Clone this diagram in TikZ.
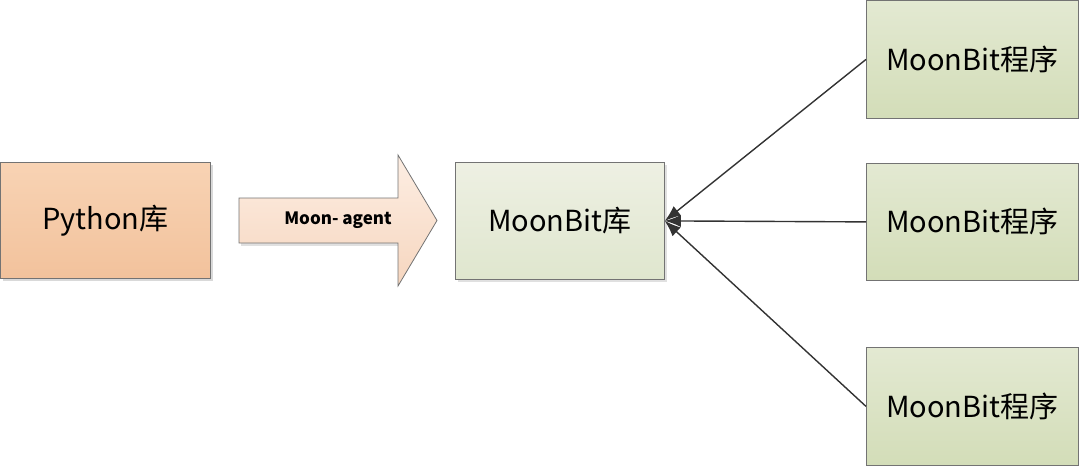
\documentclass[tikz,border=0pt]{standalone}
\usepackage{fontspec}
\setmainfont{Noto Sans CJK SC}
\usetikzlibrary{arrows.meta}
\definecolor{pyT}{HTML}{F8D3B4}
\definecolor{pyB}{HTML}{F2C29C}
\definecolor{arT}{HTML}{FDEEE3}
\definecolor{arB}{HTML}{F6D6BF}
\definecolor{mbT}{HTML}{EEF0E3}
\definecolor{mbB}{HTML}{DFE6CE}
\definecolor{pgT}{HTML}{E3E9D2}
\definecolor{pgB}{HTML}{D3DDB8}
\begin{document}
\begin{tikzpicture}[x=1pt,y=-1pt,
  box/.style={draw=black!55,line width=0.8pt,inner sep=0pt,font=\fontsize{29}{34}\selectfont},
  lnk/.style={draw=black!80,line width=1.4pt,-{Latex[length=16pt,width=12pt]}}]
\useasboundingbox (0,0) rectangle (1080,469);
\fill[black!15] (3,165) rectangle (213,281);
\node[box,minimum width=210pt,minimum height=116pt,top color=pyT,bottom color=pyB,anchor=north west]
  (py) at (0,162) {Python库};
\fill[black!12] (241,201) rectangle (400,246);
\shade[top color=arT,bottom color=arB, draw=black!55,line width=0.8pt]
  (239,198) -- (398,198) -- (398,155) -- (437,220.5) -- (398,286) -- (398,243) -- (239,243) -- cycle;
\node[font=\bfseries\fontsize{17}{20}\selectfont] (ag) at (338,220) {Moon- agent};
\fill[black!12] (458,165) rectangle (667,282);
\node[box,minimum width=209pt,minimum height=117pt,top color=mbT,bottom color=mbB,anchor=north west]
  (mb) at (455,162) {MoonBit库};
\foreach \n/\y/\h in {p1/0/118,p2/163/117,p3/347/118}{
  \node[box,minimum width=212pt,minimum height=\h pt,top color=pgT,bottom color=pgB,anchor=north west]
   (\n) at (866,\y) {MoonBit程序};
}
\draw[lnk] (p1.west) -- (mb.east);
\draw[lnk] (p2.west) -- (mb.east);
\draw[lnk] (p3.west) -- (mb.east);
\end{tikzpicture}
\end{document}
